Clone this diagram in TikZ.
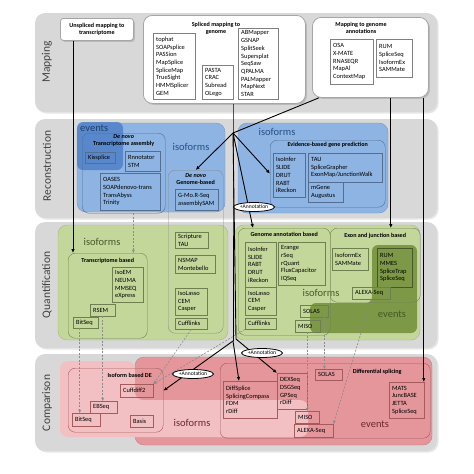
\documentclass[tikz,border=0pt]{standalone}
\usepackage{fontspec}
\setmainfont{Carlito}
\usetikzlibrary{arrows.meta,shapes.geometric,shadows,positioning}

\definecolor{bandgray}{RGB}{216,216,216}
\definecolor{isoblue}{RGB}{141,180,226}
\definecolor{evblue}{RGB}{79,129,200}
\definecolor{blueline}{RGB}{84,110,145}
\definecolor{bluetext}{RGB}{38,80,135}
\definecolor{isogreen}{RGB}{196,215,155}
\definecolor{evgreen}{RGB}{125,152,70}
\definecolor{greenline}{RGB}{110,128,80}
\definecolor{greentext}{RGB}{70,88,40}
\definecolor{isopink}{RGB}{242,192,194}
\definecolor{evpink}{RGB}{228,150,155}
\definecolor{pinkline}{RGB}{165,90,92}
\definecolor{pinktext}{RGB}{110,40,45}

\newcommand{\toolfont}{\fontsize{6.4}{7.7}\selectfont}
\newcommand{\titlefont}{\fontsize{6.1}{7.3}\selectfont\bfseries}

\tikzset{
  band/.style={fill=bandgray, rounded corners=10pt, drop shadow={opacity=0.2,shadow xshift=1.5pt,shadow yshift=-1.5pt}},
  bandlabel/.style={rotate=90, font=\fontsize{11.5}{12}\selectfont, text=black!75},
  tool/.style={draw=black!50, anchor=north west, align=left, inner xsep=3pt, inner ysep=1pt, font=\toolfont},
  grp/.style={draw=black!50, rounded corners=7pt, anchor=north west, inner sep=0pt},
  title/.style={anchor=north, align=center, font=\titlefont, inner sep=1pt},
  mapbox/.style={fill=white, draw=black!35, line width=0.8pt, anchor=north west, inner sep=0pt, drop shadow={opacity=0.35,shadow xshift=1.5pt,shadow yshift=-1.5pt}},
  big/.style={font=\fontsize{10.5}{12}\selectfont},
  ann/.style={ellipse, draw, thick, fill=white, inner sep=0pt, minimum width=41pt, minimum height=9pt, font=\fontsize{5.6}{6}\selectfont},
  conn/.style={line width=0.9pt},
  arr/.style={conn, -{Latex[length=4pt,width=3.5pt]}},
  darr/.style={draw=black!45, line width=0.6pt, dash pattern=on 2pt off 1.5pt, -{Stealth[length=3.5pt,width=3pt]}}
}

\begin{document}
\begin{tikzpicture}[x=1pt,y=-1pt]
    \useasboundingbox (0,0) rectangle (474,474);
    %bands
    \fill[band] (35,13) rectangle (437,112);
    \fill[band] (35,119) rectangle (437,218);
    \fill[band] (35,222) rectangle (437,348);
    \fill[band] (35,354) rectangle (437,451);
    \node[bandlabel] (lmap) at (47,62) {Mapping};
    \node[bandlabel] (lrec) at (47,166) {Reconstruction};
    \node[bandlabel] (lqua) at (47,285) {Quantification};
    \node[bandlabel] (lcom) at (47,403) {Comparison};

    %mapping
    \node[mapbox, rounded corners=3pt, minimum width=73pt, minimum height=22pt, align=center, font=\titlefont] (umap) at (60,18) {Unspliced mapping to\\transcriptome};
    \node[mapbox, rounded corners=9pt, minimum width=162pt, minimum height=88pt] (smap) at (143,15) {};
    \node[title] (smapt) at (216,21) {Spliced mapping to\\genome};
    \node[tool, text width=36pt, minimum height=66pt] (sm1) at (153,33) {tophat\\SOAPsplice\\PASSion\\MapSplice\\SpliceMap\\TrueSight\\HMMSplicer\\GEM};
    \node[tool, text width=25pt, minimum height=34pt] (sm2) at (202,65) {PASTA\\CRAC\\Subread\\OLego};
    \node[tool, text width=34pt, minimum height=71pt] (sm3) at (238,28) {ABMapper\\GSNAP\\SplitSeek\\Supersplat\\SeqSaw\\QPALMA\\PALMapper\\MapNext\\STAR};
    \node[mapbox, rounded corners=9pt, minimum width=116pt, minimum height=80pt] (amap) at (312,17) {};
    \node[title] (amapt) at (361,21) {Mapping to genome\\annotations};
    \node[tool, text width=37pt, minimum height=45pt] (am1) at (330,39) {OSA\\X-MATE\\RNASEQR\\MapAl\\ContextMap};
    \node[tool, text width=30pt, minimum height=38pt] (am2) at (376,39) {RUM\\SpliceSeq\\IsoformEx\\SAMMate};

    %reconstruction
    \fill[isoblue, draw=isoblue!85!black, rounded corners=9pt] (77,123) rectangle (225,212);
    \fill[isoblue, draw=isoblue!85!black, rounded corners=9pt] (238,123) rectangle (388,213);
    \fill[evblue, opacity=0.85, rounded corners=6pt] (77,122) rectangle (123,170);
    \node[big, text=bluetext] (isoA) at (191,147) {isoforms};
    \node[big, text=bluetext] (isoB) at (277,132) {isoforms};
    \node[big, text=bluetext!80!black, anchor=west, inner sep=1pt] (evA) at (79,128) {events};
    \begin{scope}[tool/.append style={draw=blueline}, grp/.append style={draw=blueline}]
        \node[grp, minimum width=83pt, minimum height=80pt, label={[title]north:{\textit{De novo}\\Transcriptome assembly}}] (dnt) at (82,133) {};
        \node[tool, text width=24pt, minimum height=11pt] (kiss) at (85,152) {Kissplice};
        \node[tool, text width=29pt, minimum height=20pt] (rnno) at (125,151) {Rnnotator\\STM};
        \node[tool, text width=54pt, minimum height=37pt] (oases) at (100,173) {OASES\\SOAPdenovo-trans\\TransAbyss\\Trinity};
        \node[tool, text width=37pt, minimum height=21pt] (gmo) at (175,189) {G-Mo.R-Seq\\assemblySAM};
        \node[grp, minimum width=115pt, minimum height=67pt, label={[title, yshift=-1pt]north:{Evidence-based gene prediction}}] (evid) at (270,140) {};
        \node[tool, text width=26pt, minimum height=44pt] (ev1) at (273,153) {IsoInfer\\SLIDE\\DRUT\\RABT\\iReckon};
        \node[tool, text width=68pt, minimum height=29pt] (ev2) at (308,153) {TAU\\SpliceGrapher\\ExonMap/JunctionWalk};
        \node[tool, text width=29pt, minimum height=20pt] (ev3) at (308,182) {mGene\\Augustus};
    \end{scope}

    %quantification
    \fill[isogreen, draw=isogreen!85!black, rounded corners=9pt] (58,225) rectangle (228,340);
    \fill[isogreen, draw=isogreen!85!black, rounded corners=9pt] (235,225) rectangle (420,340);
    \fill[evgreen, rounded corners=6pt] (372,245) -- (417,245) -- (417,333) -- (310,333) -- (310,303) -- (372,303) -- cycle;
    \node[big, text=greentext] (isoC) at (102,242) {isoforms};
    \node[big, text=greentext] (isoD) at (321,293) {isoforms};
    \node[big, text=greentext] (evC) at (392,314) {events};
    \begin{scope}[tool/.append style={draw=greenline}, grp/.append style={draw=greenline}]
        \node[grp, minimum width=79pt, minimum height=85pt, label={[title, yshift=-4pt]north:{Transcriptome based}}] (tb) at (68,253) {};
        \node[tool, text width=25pt, minimum height=35pt] (tb1) at (112,267) {IsoEM\\NEUMA\\MMSEQ\\eXpress};
        \node[tool, text width=19pt, minimum height=12pt] (rsemQ) at (90,304) {RSEM};
        \node[tool, text width=19pt, minimum height=11pt] (bitQ) at (73,317) {BitSeq};
        \node[tool, text width=27pt, minimum height=16pt] (scrip) at (175,232) {Scripture\\TAU};
        \node[tool, text width=34pt, minimum height=18pt] (nsmap) at (175,255) {NSMAP\\Montebello};
        \node[tool, text width=26pt, minimum height=27pt] (isol1) at (175,288) {IsoLasso\\CEM\\Casper};
        \node[tool, text width=26pt, minimum height=11pt] (cuff1) at (175,318) {Cufflinks};
        \node[grp, minimum width=92pt, minimum height=107pt, label={[title, yshift=-3pt]north:{Genome annotation based}}] (gab) at (238,228) {};
        \node[tool, text width=25pt, minimum height=45pt] (ga1) at (245,242) {IsoInfer\\SLIDE\\RABT\\DRUT\\iReckon};
        \node[tool, text width=41pt, minimum height=43pt] (ga2) at (278,242) {Erange\\rSeq\\rQuant\\FluxCapacitor\\IQSeq};
        \node[tool, text width=25pt, minimum height=28pt] (ga3) at (245,287) {IsoLasso\\CEM\\Casper};
        \node[tool, text width=25pt, minimum height=11pt] (ga4) at (245,318) {Cufflinks};
        \node[tool, text width=22pt, minimum height=12pt] (solasQ) at (300,305) {SOLAS};
        \node[tool, text width=19pt, minimum height=12pt] (misoQ) at (295,320) {MISO};
        \node[grp, minimum width=90pt, minimum height=74pt, label={[title, yshift=-4pt]north:{Exon and junction based}}] (ejb) at (330,228) {};
        \node[tool, text width=30pt, minimum height=22pt] (ej1) at (332,248) {IsoformEx\\SAMMate};
        \node[tool, draw=greentext, text width=29pt, minimum height=39pt] (ej2) at (377,248) {RUM\\MMES\\SpliceTrap\\SpliceSeq};
        \node[tool, text width=32pt, minimum height=12pt] (alexaQ) at (352,287) {ALEXA-Seq};
    \end{scope}
    % de novo genome based spans two bands
    \node[grp, draw=black!45, minimum width=55pt, minimum height=163pt, label={[title, yshift=-2pt]north:{\textit{De novo}\\Genome-based}}] (dng) at (168,170) {};

    %comparison
    \fill[evpink, draw=evpink!85!black, rounded corners=9pt] (135,357) rectangle (432,445);
    \fill[isopink, rounded corners=8pt] (60,361) -- (135,361) -- (135,400) -- (308,400) -- (308,437) -- (60,437) -- cycle;
    \node[big, text=pinktext] (isoE) at (192,423) {isoforms};
    \node[big, text=pinktext] (evE) at (375,424) {events};
    \begin{scope}[tool/.append style={draw=pinkline}, grp/.append style={draw=pinkline}]
        \node[grp, minimum width=95pt, minimum height=64pt, label={[title, xshift=14pt, yshift=-4pt]north:{Isoform based DE}}] (ibde) at (68,368) {};
        \node[tool, text width=27pt, minimum height=13pt] (cuffd) at (120,384) {Cuffdiff2};
        \node[tool, text width=21pt, minimum height=12pt] (ebseq) at (90,401) {EBSeq};
        \node[tool, text width=22pt, minimum height=13pt] (bitC) at (72,413) {BitSeq};
        \node[tool, text width=17pt, minimum height=12pt] (basis) at (130,415) {Basis};
        \node[grp, minimum width=210pt, minimum height=75pt, label={[title, xshift=52pt, yshift=-5pt]north:{Differential splicing}}] (dsb) at (220,363) {};
        \node[tool, text width=48pt, minimum height=37pt] (dsp) at (223,381) {DiffSplice\\SplicingCompass\\FDM\\rDiff};
        \node[tool, text width=24pt, minimum height=36pt] (dex) at (277,373) {DEXSeq\\DSGSeq\\GPSeq\\rDiff};
        \node[tool, text width=18pt, minimum height=12pt] (misoC) at (295,411) {MISO};
        \node[tool, text width=33pt, minimum height=13pt] (alexaC) at (294,424) {ALEXA-Seq};
        \node[tool, text width=21pt, minimum height=11pt] (solasC) at (315,369) {SOLAS};
        \node[tool, text width=29pt, minimum height=36pt] (mats) at (389,382) {MATS\\JuncBASE\\JETTA\\SpliceSeq};
    \end{scope}

    %arrows
    \coordinate (jn) at (233,133);
    \coordinate (fk) at (233,341);
    \coordinate (fk2) at (236,339);
    \coordinate (u1) at ([xshift=5pt]tb.north west);
    \draw[arr] (u1 |- umap.south) -- (u1);
    \draw[conn] (jn |- smap.south) -- (jn) -- (fk);
    \coordinate (a0) at ([xshift=7pt]amap.south west);
    \draw[conn] (a0) -- (jn);
    \draw[arr] (jn) -- (dng.north);
    \draw[arr] (jn) -- (evid.west);
    \coordinate (g1) at ([xshift=15pt]gab.north west);
    \draw[arr] (jn) -- (g1);
    \draw[conn] (jn) -- (fk2);
    \draw[arr] (fk) -- (ibde.east |- cuffd.center);
    \coordinate (d1) at ([xshift=16pt]dsp.north west);
    \draw[arr] (fk) -- (d1);
    \draw[arr] (fk2) -- (dex.north west);
    \coordinate (a1) at ([xshift=-38pt]amap.south east);
    \draw[arr] (a1) -- (a1 |- ejb.north);
    \coordinate (a2) at ([xshift=-5pt]amap.south east);
    \draw[arr] (a2) -- (a2 |- mats.north);

    %dashed
    \coordinate (t1) at ([xshift=-32pt]dnt.south east);
    \draw[darr] (t1) -- (t1 |- tb.north);
    \coordinate (b1) at ([xshift=-6pt]bitQ.south);
    \draw[darr] (b1) -- (b1 |- bitC.north);
    \draw[darr] (rsemQ.south) -- (rsemQ.south |- ebseq.north);
    \draw[darr] (cuff1.south) -- (cuffd.north east);
    \draw[darr] (ga4.south west) -- (cuffd.north east);
    \draw[darr] (misoQ.south -| misoC.north) -- (misoC.north);
    \coordinate (s1) at ([xshift=-4pt]solasQ.south east);
    \draw[darr] (s1) -- (s1 |- solasC.north);
    \draw[darr] (alexaQ.south) -- (alexaC.north east);

    %annotation
    \node[ann] (ann1) at (254,207) {+Annotation};
    \node[ann] (ann2) at (193,374) {+Annotation};
    \node[ann] (ann3) at (262,353) {+Annotation};
\end{tikzpicture}
\end{document}
